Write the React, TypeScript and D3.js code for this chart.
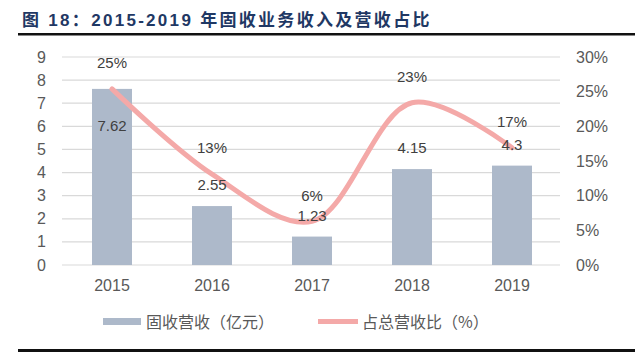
import React from "react";
import * as d3 from "d3";

const years = ["2015", "2016", "2017", "2018", "2019"];
const revenue = [7.62, 2.55, 1.23, 4.15, 4.3];
const share = [25.4, 13.1, 6.3, 23.4, 16.9];
const leftTicks = [0, 1, 2, 3, 4, 5, 6, 7, 8, 9];
const rightTicks = [0, 5, 10, 15, 20, 25, 30];
const title = "图 18：2015-2019 年固收业务收入及营收占比";
const legendBar = "固收营收（亿元）";
const legendLine = "占总营收比（%）";

const W = 640;
const H = 355;
const FONT = "'Liberation Sans', Arial, 'Noto Sans CJK SC', sans-serif";
const CJK = "'Noto Sans CJK SC', sans-serif";

export default function App() {
  const x0 = 62, x1 = 562, yTop = 57, yBot = 265;
  const x = d3.scaleBand<string>().domain(years).range([x0, x1]).paddingInner(0.6).paddingOuter(0.3);
  const xc = (d: string) => (x(d) as number) + x.bandwidth() / 2;
  const yL = d3.scaleLinear().domain([0, 9]).range([yBot, yTop]);
  const yR = d3.scaleLinear().domain([0, 30]).range([yBot, yTop]);
  const line = d3
    .line<number>()
    .x((_, i) => xc(years[i]))
    .y((d) => yR(d))
    .curve(d3.curveCatmullRom.alpha(0.5));

  return (
    <svg width={W} height={H} style={{ position: "absolute", left: 0, top: 0 }}>
      <rect width={W} height={H} fill="#fff" />
      <text x={22} y={26} fontFamily={FONT} fontWeight="bold" fontSize={17} letterSpacing={2.3} fill="#1f3864">
        {title}
      </text>
      <rect x={18} y={33} width={617} height={2.5} fill="#111" />

      {leftTicks.map((t) => (
        <g key={t}>
          <line x1={x0} x2={560} y1={yL(t)} y2={yL(t)} stroke="#d9d9d9" strokeWidth={1.2} />
          <text x={46} y={yL(t)} dy="0.35em" textAnchor="end" fontFamily={FONT} fontSize={16} fill="#595959">
            {t}
          </text>
        </g>
      ))}
      {rightTicks.map((t) => (
        <text key={t} x={576} y={yR(t)} dy="0.35em" fontFamily={FONT} fontSize={16} fill="#595959">
          {t}%
        </text>
      ))}

      {years.map((yr, i) => (
        <rect
          key={yr}
          x={x(yr)}
          y={yL(revenue[i])}
          width={x.bandwidth()}
          height={yBot - yL(revenue[i])}
          fill="#adb9ca"
        />
      ))}

      <path d={line(share) || ""} fill="none" stroke="#f4a9a8" strokeWidth={5} strokeLinecap="round" />

      {years.map((yr) => (
        <text key={yr} x={xc(yr)} y={285} dy="0.35em" textAnchor="middle" fontFamily={FONT} fontSize={16} fill="#595959">
          {yr}
        </text>
      ))}

      {years.map((yr, i) => {
        const top = yL(revenue[i]);
        const ly = i === 0 ? top + 37 : top - 21;
        return (
          <text key={yr} x={xc(yr)} y={ly} dy="0.35em" textAnchor="middle" fontFamily={FONT} fontSize={15} fill="#404040">
            {revenue[i]}
          </text>
        );
      })}
      {years.map((yr, i) => (
        <text key={yr} x={xc(yr)} y={yR(share[i]) - 26} dy="0.35em" textAnchor="middle" fontFamily={FONT} fontSize={15} fill="#404040">
          {Math.round(share[i])}%
        </text>
      ))}

      <rect x={103} y={318} width={38} height={7} fill="#adb9ca" />
      <text x={146} y={322} dy="0.35em" fontFamily={CJK} fontSize={16} fill="#595959">
        {legendBar}
      </text>
      <line x1={318} x2={358} y1={321.5} y2={321.5} stroke="#f4a9a8" strokeWidth={5} />
      <text x={362} y={322} dy="0.35em" fontFamily={CJK} fontSize={16} fill="#595959">
        {legendLine}
      </text>

      <rect x={18} y={349} width={617} height={3} fill="#111" />
    </svg>
  );
}
